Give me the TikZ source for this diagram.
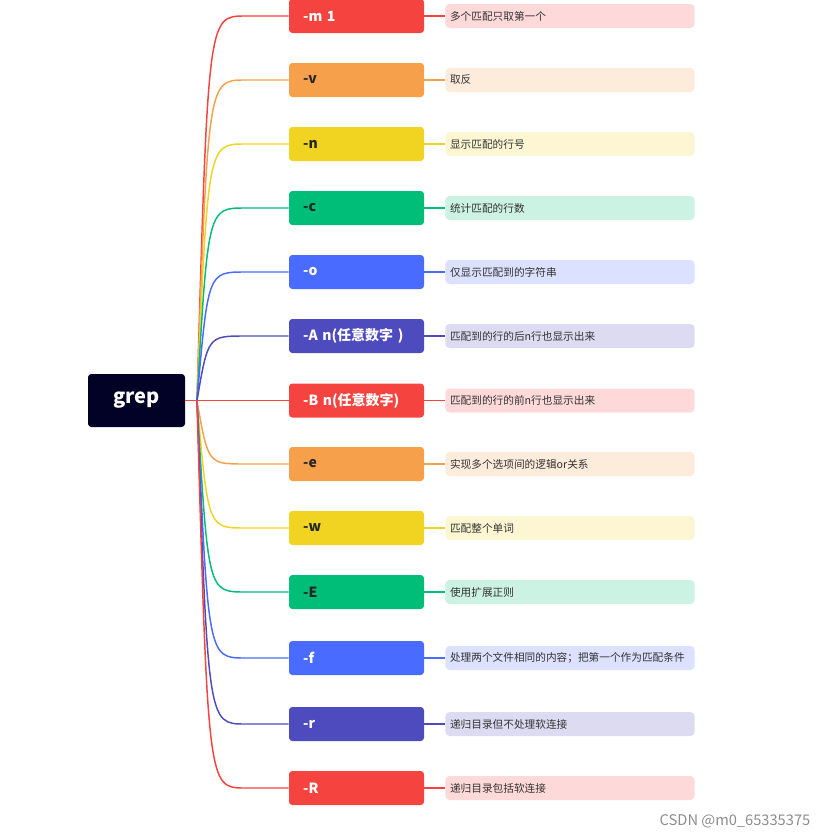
\documentclass[tikz,border=0pt]{standalone}
\usepackage{fontspec}
\setmainfont{Noto Sans CJK SC}
\usetikzlibrary{positioning}
\definecolor{cRed}{HTML}{F5443F}
\definecolor{cOra}{HTML}{F6A04C}
\definecolor{cYel}{HTML}{F1D322}
\definecolor{cGre}{HTML}{00BD78}
\definecolor{cBlu}{HTML}{4A6BFF}
\definecolor{cInd}{HTML}{4E4BBF}
\definecolor{cRoot}{HTML}{020226}
\tikzset{
  root/.style={fill=cRoot, rounded corners=2.5pt, minimum width=72.75pt, minimum height=39.75pt, text=white, font=\fontsize{15}{18}\selectfont\bfseries},
  branch/.style={fill=#1, rounded corners=2.5pt, minimum width=101.25pt, minimum height=25.5pt, text width=80pt, align=left, inner xsep=10.5pt, font=\fontsize{10.5}{12}\selectfont\bfseries},
  leaf/.style={fill=#1!20, rounded corners=3pt, minimum width=186.75pt, minimum height=18pt, text width=180pt, align=left, inner xsep=3.4pt, inner ysep=2pt, text=black!80, font=\fontsize{8}{10.5}\selectfont},
  wire/.style={draw=#1, line width=1.1pt},
}
\newcommand{\branch}[6]{
  \node (b#1) [branch=#3, text=#4] at (356.5,#2) {#5};
  \node (l#1) [leaf=#3] at (570,#2) {#6};
  \draw [wire=#3] (hub) .. controls (208,#2) .. (245,#2) -- (b#1.west);
  \draw [wire=#3] (b#1.east) -- (l#1.west);
}

\begin{document}
\begin{tikzpicture}[x=0.75pt, y=-0.75pt]
  \useasboundingbox (0,0) rectangle (838,839);

  % root and hub
  \node (root) [root] at (136.5,400.5) {grep};
  \coordinate (hub) at (197,400.5);
  \draw [wire=cRed] (root.east) -- (hub);

  % branches and leaves
  \branch{1}{16}{cRed}{white}{-m 1}{多个匹配只取第一个}
  \branch{2}{80}{cOra}{black!85}{-v}{取反}
  \branch{3}{144}{cYel}{black!85}{-n}{显示匹配的行号}
  \branch{4}{208}{cGre}{black!85}{-c}{统计匹配的行数}
  \branch{5}{272}{cBlu}{white}{-o}{仅显示匹配到的字符串}
  \branch{6}{336}{cInd}{white}{-A n(任意数字 )}{匹配到的行的后n行也显示出来}
  \branch{7}{400.5}{cRed}{white}{-B n(任意数字)}{匹配到的行的前n行也显示出来}
  \branch{8}{464}{cOra}{black!85}{-e}{实现多个选项间的逻辑or关系}
  \branch{9}{528}{cYel}{black!85}{-w}{匹配整个单词}
  \branch{10}{592}{cGre}{black!85}{-E}{使用扩展正则}
  \branch{11}{658}{cBlu}{white}{-f}{处理两个文件相同的内容；把第一个作为匹配条件}
  \branch{12}{724}{cInd}{white}{-r}{递归目录但不处理软连接}
  \branch{13}{788}{cRed}{white}{-R}{递归目录包括软连接}

  % watermark
  \node (mark) [text=black!45, font=\fontsize{11}{13}\selectfont] at (735,821) {CSDN @m0\_65335375};
\end{tikzpicture}
\end{document}
